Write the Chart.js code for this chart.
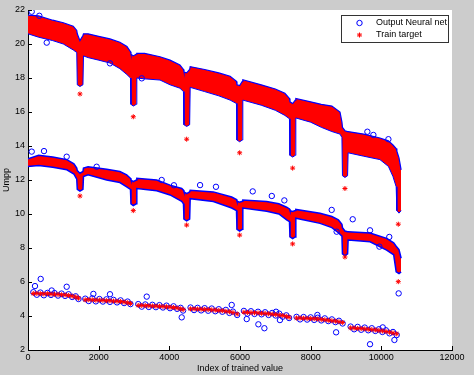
<!DOCTYPE html>
<html>
<head>
<meta charset="utf-8">
<script src="https://cdn.jsdelivr.net/npm/chart.js@4/dist/chart.umd.min.js"></script>
<style>
  html, body { margin: 0; padding: 0; background: #cccccc; }
  canvas { display: block; }
</style>
</head>
<body>
<canvas id="chart" width="474" height="375"></canvas>
<script>
// labels
const seriesNames = ["Output Neural net", "Train target"];
const xTitle = "Index of trained value";
const yTitle = "Umpp";
const xTicks = [0, 2000, 4000, 6000, 8000, 10000, 12000];
const yTicks = [2, 4, 6, 8, 10, 12, 14, 16, 18, 20, 22];

// upper band: the dense cloud, read as its top and bottom edge (dips included)
const upperIdx = [0, 300, 700, 1000, 1280, 1380, 1395, 1470, 1555, 1570, 1700, 2000, 2320, 2600, 2800, 2900, 2915, 2980, 3065, 3080,
  3300, 3736, 4020, 4300, 4400, 4415, 4490, 4575, 4590, 5000, 5400, 5720, 5900, 5915, 5990, 6065, 6080, 6600, 7000, 7270,
  7400, 7415, 7490, 7565, 7580, 8000, 8300, 8600, 8830, 8885, 8900, 8970, 9045, 9060, 9500, 9960, 10200, 10330, 10420, 10440,
  10500, 10560];
const upperTop = [21.7, 21.65, 21.4, 21.25, 21.05, 20.8, 20.6, 20.2, 20.5, 20.6, 20.6, 20.45, 20.3, 20.1, 19.85, 19.55, 19.4, 19.3, 19.4, 19.45,
  19.45, 19.25, 19.05, 18.76, 18.5, 18.35, 18.3, 18.5, 18.67, 18.5, 18.3, 18.1, 17.8, 17.6, 17.55, 17.8, 17.9, 17.6, 17.35, 17.1,
  16.8, 16.6, 16.5, 16.7, 16.8, 16.6, 16.45, 16.35, 16.0, 15.4, 15.1, 14.9, 14.85, 14.85, 14.7, 14.47, 14.3, 14.06, 13.85, 13.7,
  13.3, 12.6];
const upperBottom = [20.6, 20.4, 20.2, 20.0, 19.65, 19.5, 17.6, 17.5, 17.6, 19.3, 19.2, 19.05, 18.88, 18.55, 18.2, 18.0, 16.45, 16.35, 16.45, 18.0,
  17.95, 17.88, 17.6, 17.4, 17.2, 15.25, 15.15, 15.25, 17.45, 17.2, 16.95, 16.7, 16.5, 14.35, 14.25, 14.35, 16.7, 16.4, 16.1, 15.8,
  15.6, 13.45, 13.35, 13.45, 15.65, 15.4, 15.1, 14.85, 14.7, 14.5, 12.25, 12.15, 12.25, 13.6, 13.4, 13.2, 12.8, 12.2, 11.6, 10.2,
  10.05, 10.2];

// middle band
const middleIdx = [0, 300, 700, 1100, 1300, 1380, 1395, 1470, 1555, 1570, 1700, 2227, 2600, 2793, 2900, 2915, 2980, 3065, 3080, 3642,
  4020, 4350, 4400, 4415, 4490, 4575, 4590, 5245, 5765, 5900, 5915, 5990, 6065, 6080, 6755, 7100, 7320, 7400, 7415, 7490,
  7565, 7580, 8265, 8600, 8785, 8885, 8900, 8970, 9045, 9060, 9680, 10150, 10350, 10420, 10500, 10560];
const middleTop = [13.25, 13.45, 13.35, 13.2, 12.95, 12.7, 12.55, 12.4, 12.5, 12.7, 12.78, 12.63, 12.5, 12.3, 12.1, 12.0, 11.9, 12.0, 12.1, 12.0,
  11.7, 11.5, 11.4, 11.3, 11.2, 11.3, 11.4, 11.3, 11.0, 10.85, 10.75, 10.7, 10.75, 10.82, 10.74, 10.6, 10.4, 10.3, 10.2, 10.15,
  10.2, 10.27, 10.04, 9.85, 9.65, 9.4, 9.2, 9.0, 8.96, 8.96, 8.88, 8.57, 8.3, 8.1, 7.9, 7.4];
const middleBottom = [12.8, 12.85, 12.75, 12.6, 12.35, 12.05, 11.45, 11.35, 11.45, 12.2, 12.3, 12.0, 11.85, 11.6, 11.45, 10.6, 10.5, 10.6, 11.5, 11.37,
  11.12, 10.74, 10.6, 9.7, 9.6, 9.7, 10.9, 10.74, 10.35, 10.2, 9.1, 9.0, 9.1, 10.35, 10.16, 10.0, 9.65, 9.55, 8.65, 8.55,
  8.65, 9.75, 9.45, 9.2, 8.9, 8.7, 7.65, 7.55, 7.65, 8.47, 8.37, 7.88, 7.6, 6.6, 6.5, 6.6];

// lower band, 7 separate runs
const lowIdx = [150, 250, 350, 450, 550, 650, 750, 850, 950, 1050, 1150, 1250, 1350, 1430,
  1620, 1720, 1820, 1920, 2020, 2120, 2220, 2320, 2420, 2520, 2620, 2720, 2820, 2900,
  3120, 3220, 3320, 3420, 3520, 3620, 3720, 3820, 3920, 4020, 4120, 4220, 4320, 4390,
  4600, 4700, 4800, 4900, 5000, 5100, 5200, 5300, 5400, 5500, 5600, 5700, 5800, 5920,
  6110, 6210, 6310, 6410, 6510, 6610, 6710, 6810, 6910, 7010, 7110, 7210, 7310, 7390,
  7600, 7700, 7800, 7900, 8000, 8100, 8200, 8300, 8400, 8500, 8600, 8700, 8800, 8905,
  9130, 9230, 9330, 9430, 9530, 9630, 9730, 9830, 9930, 10030, 10130, 10230, 10330, 10435];
const lowTarget = [5.32, 5.33, 5.31, 5.30, 5.31, 5.29, 5.28, 5.27, 5.25, 5.24, 5.21, 5.17, 5.12, 5.05,
  4.95, 4.96, 4.95, 4.93, 4.93, 4.92, 4.90, 4.90, 4.88, 4.87, 4.85, 4.82, 4.78, 4.74,
  4.62, 4.62, 4.61, 4.60, 4.59, 4.58, 4.57, 4.56, 4.54, 4.52, 4.50, 4.47, 4.42, 4.38,
  4.42, 4.42, 4.41, 4.40, 4.39, 4.38, 4.36, 4.35, 4.33, 4.31, 4.28, 4.25, 4.20, 4.12,
  4.22, 4.21, 4.20, 4.19, 4.18, 4.16, 4.15, 4.13, 4.11, 4.09, 4.06, 4.03, 3.98, 3.93,
  3.88, 3.88, 3.87, 3.86, 3.85, 3.84, 3.82, 3.80, 3.78, 3.75, 3.72, 3.70, 3.66, 3.62,
  3.30, 3.29, 3.27, 3.26, 3.24, 3.22, 3.20, 3.18, 3.15, 3.12, 3.09, 3.05, 3.00, 2.95];
const lowOutput = [5.40, 5.25, 5.38, 5.22, 5.36, 5.24, 5.35, 5.20, 5.32, 5.18, 5.28, 5.12, 5.16, 5.00,
  5.02, 4.88, 5.04, 4.86, 5.00, 4.85, 4.98, 4.83, 4.95, 4.80, 4.92, 4.76, 4.85, 4.70,
  4.70, 4.55, 4.68, 4.53, 4.66, 4.52, 4.64, 4.50, 4.61, 4.46, 4.57, 4.42, 4.48, 4.32,
  4.50, 4.35, 4.48, 4.33, 4.46, 4.31, 4.44, 4.28, 4.40, 4.25, 4.36, 4.18, 4.26, 4.06,
  4.30, 4.14, 4.28, 4.12, 4.25, 4.10, 4.22, 4.06, 4.18, 4.03, 4.14, 3.96, 4.04, 3.88,
  3.95, 3.80, 3.94, 3.79, 3.92, 3.77, 3.90, 3.74, 3.86, 3.70, 3.80, 3.64, 3.72, 3.56,
  3.38, 3.22, 3.36, 3.19, 3.32, 3.16, 3.28, 3.12, 3.22, 3.06, 3.16, 2.98, 3.06, 2.88];

// stray network outputs (blue circles off the bands)
const strayIdx = [105, 320, 530, 2320, 3220, 9605, 9775, 10200,
  105, 453, 1095, 1943, 3783, 4130, 4870, 5320, 6360, 6900, 7255, 8595, 8735, 9190, 9680, 10225, 9945,
  198, 359, 670, 1095, 1850, 2320, 3360, 4350, 5765, 6190, 6520, 6690, 7020, 7130, 8190, 8720, 9680, 10040, 10370, 10490];
const strayVal = [21.9, 21.66, 20.08, 18.86, 17.98, 14.84, 14.65, 14.4,
  13.67, 13.7, 13.37, 12.78, 12.0, 11.69, 11.7, 11.6, 11.33, 11.06, 10.8, 10.24, 8.96, 9.69, 9.04, 8.65, 8.08,
  5.76, 6.18, 5.5, 5.72, 5.3, 5.28, 5.14, 3.92, 4.65, 3.82, 3.51, 3.28, 4.25, 3.76, 4.06, 3.04, 2.34, 3.33, 2.59, 5.33];

// lowest targets at the bottom of each dip
const dipIdx = [1470, 2980, 4490, 5990, 7490, 8970, 10480, 1470, 2980, 4490, 5990, 7490, 8970, 10480];
const dipVal = [17.06, 15.72, 14.4, 13.6, 12.7, 11.5, 9.4, 11.06, 10.2, 9.35, 8.76, 8.24, 7.47, 6.02];

const BLUE = "#0000ff";
const RED = "#ff0000";
const FONT = '"Liberation Sans", Arial, sans-serif';

const pts = (xs, ys) => xs.map((x, i) => ({ x: x, y: ys[i] }));

function edge(xs, ys, fill, width) {
  return {
    type: "line",
    data: pts(xs, ys),
    borderColor: BLUE,
    borderWidth: width,
    backgroundColor: RED,
    pointRadius: 0,
    tension: 0,
    fill: fill,
    order: 10,
  };
}

const backdrop = {
  id: "backdrop",
  beforeDraw(chart) {
    const { ctx, chartArea: a } = chart;
    ctx.save();
    ctx.fillStyle = "#cccccc";
    ctx.fillRect(0, 0, chart.width, chart.height);
    ctx.fillStyle = "#ffffff";
    ctx.fillRect(a.left, a.top, a.right - a.left, a.bottom - a.top);
    ctx.restore();
  },
};

// matlab style ticks pointing into the plot
const innerTicks = {
  id: "innerTicks",
  afterDraw(chart) {
    const { ctx, chartArea: a } = chart;
    const x = chart.scales.x, y = chart.scales.y;
    ctx.save();
    ctx.strokeStyle = "#000";
    ctx.lineWidth = 1;
    ctx.beginPath();
    x.ticks.forEach((t) => {
      const px = Math.round(x.getPixelForValue(t.value)) + 0.5;
      ctx.moveTo(px, a.bottom);
      ctx.lineTo(px, a.bottom - 4);
    });
    y.ticks.forEach((t) => {
      const py = Math.round(y.getPixelForValue(t.value)) + 0.5;
      ctx.moveTo(a.left, py);
      ctx.lineTo(a.left + 4, py);
    });
    ctx.stroke();
    ctx.restore();
  },
};

const boxLegend = {
  id: "boxLegend",
  afterDraw(chart) {
    const ctx = chart.ctx;
    ctx.save();
    ctx.fillStyle = "#ffffff";
    ctx.fillRect(341, 15, 108, 28);
    ctx.strokeStyle = "#333";
    ctx.lineWidth = 1;
    ctx.strokeRect(341.5, 15.5, 107, 27);
    ctx.font = "9px " + FONT;
    ctx.textBaseline = "middle";
    seriesNames.forEach((name, i) => {
      const cy = 23 + i * 12;
      ctx.beginPath();
      if (i === 0) {
        ctx.strokeStyle = BLUE;
        ctx.arc(359.5, cy, 2.7, 0, Math.PI * 2);
      } else {
        ctx.strokeStyle = RED;
        ctx.moveTo(357, cy); ctx.lineTo(362, cy);
        ctx.moveTo(359.5, cy - 2.5); ctx.lineTo(359.5, cy + 2.5);
        ctx.moveTo(357.7, cy - 1.8); ctx.lineTo(361.3, cy + 1.8);
        ctx.moveTo(357.7, cy + 1.8); ctx.lineTo(361.3, cy - 1.8);
      }
      ctx.stroke();
      ctx.fillStyle = "#000";
      ctx.fillText(name, 376, cy);
    });
    ctx.restore();
  },
};

new Chart(document.getElementById("chart"), {
  type: "scatter",
  data: {
    datasets: [
      edge(upperIdx, upperBottom, false, 1),
      edge(upperIdx, upperTop, "-1", 1.2),
      edge(middleIdx, middleBottom, false, 1.5),
      edge(middleIdx, middleTop, "-1", 1.5),
      {
        label: seriesNames[0],
        data: pts(lowIdx, lowOutput).concat(pts(strayIdx, strayVal)),
        pointStyle: "circle",
        pointRadius: 2.7,
        borderColor: BLUE,
        backgroundColor: "rgba(0,0,0,0)",
        borderWidth: 1,
        order: 5,
      },
      {
        label: seriesNames[1],
        data: pts(lowIdx, lowTarget).concat(pts(dipIdx, dipVal)),
        pointStyle: "star",
        pointRadius: 2.5,
        borderColor: RED,
        backgroundColor: RED,
        borderWidth: 1,
        order: 1,
      },
    ],
  },
  options: {
    responsive: false,
    animation: false,
    events: [],
    layout: { padding: { top: 10, right: 22, left: 0, bottom: 0 } },
    plugins: {
      legend: { display: false },
      tooltip: { enabled: false },
    },
    scales: {
      x: {
        type: "linear",
        min: 0,
        max: 12000,
        afterBuildTicks: (s) => { s.ticks = xTicks.map((v) => ({ value: v })); },
        afterFit: (s) => { s.height = 25; },
        grid: { display: false, drawTicks: false },
        border: { display: true, color: "#000", width: 1 },
        ticks: { color: "#000", font: { family: FONT, size: 9 }, padding: 2, maxRotation: 0, callback: (v) => String(v) },
        title: { display: true, text: xTitle, color: "#000", font: { family: FONT, size: 9 }, padding: { top: 0, bottom: 1 } },
      },
      y: {
        type: "linear",
        min: 2,
        max: 22,
        afterBuildTicks: (s) => { s.ticks = yTicks.map((v) => ({ value: v })); },
        afterFit: (s) => { s.width = 28; },
        grid: { display: false, drawTicks: false },
        border: { display: true, color: "#000", width: 1 },
        ticks: { color: "#000", font: { family: FONT, size: 9 }, padding: 3, callback: (v) => String(v) },
        title: { display: true, text: yTitle, color: "#000", font: { family: FONT, size: 9 }, padding: { top: 1, bottom: 0 } },
      },
    },
  },
  plugins: [backdrop, innerTicks, boxLegend],
});
</script>
</body>
</html>
